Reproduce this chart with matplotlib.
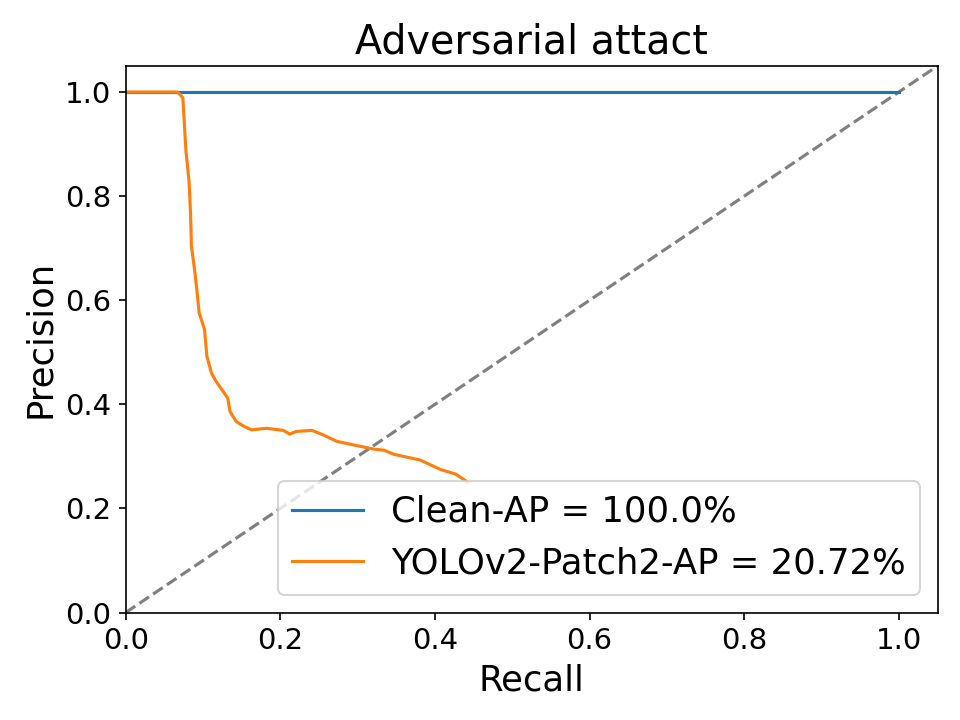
import matplotlib
matplotlib.use("Agg")
import matplotlib.pyplot as plt
import numpy as np

# clean detector: precision 1.0 over the full recall range
clean_recall = [0.0, 1.0]
clean_precision = [1.0, 1.0]

# patched detector PR curve
patch_recall = [0.0, 0.067, 0.074, 0.076, 0.078, 0.082, 0.084, 0.085, 0.089, 0.092,
                0.095, 0.102, 0.105, 0.111, 0.117, 0.126, 0.132, 0.135, 0.143, 0.154,
                0.163, 0.182, 0.204, 0.212, 0.221, 0.241, 0.256, 0.273, 0.295, 0.321,
                0.334, 0.347, 0.381, 0.407, 0.427, 0.442]
patch_precision = [1.0, 1.0, 0.989, 0.937, 0.886, 0.828, 0.763, 0.705, 0.660, 0.621,
                   0.576, 0.544, 0.493, 0.460, 0.444, 0.425, 0.412, 0.386, 0.367, 0.357,
                   0.351, 0.354, 0.350, 0.343, 0.348, 0.350, 0.341, 0.329, 0.322, 0.314,
                   0.312, 0.304, 0.293, 0.275, 0.266, 0.251]

labels = ["Clean-AP = 100.0%", "YOLOv2-Patch2-AP = 20.72%"]

plt.figure(figsize=(6.4, 4.8), dpi=150)
plt.plot([0, 1.05], [0, 1.05], linestyle='--', color='gray')
plt.plot(clean_recall, clean_precision, label=labels[0])
plt.plot(patch_recall, patch_precision, label=labels[1])

plt.xlim(0, 1.05)
plt.ylim(0, 1.05)
plt.xticks(fontsize=14)
plt.yticks(fontsize=14)
plt.xlabel("Recall", fontsize=17)
plt.ylabel("Precision", fontsize=17)
plt.title("Adversarial attact", fontsize=19)
plt.legend(loc='lower right', fontsize=17)
plt.tight_layout()
plt.savefig("out.png")
